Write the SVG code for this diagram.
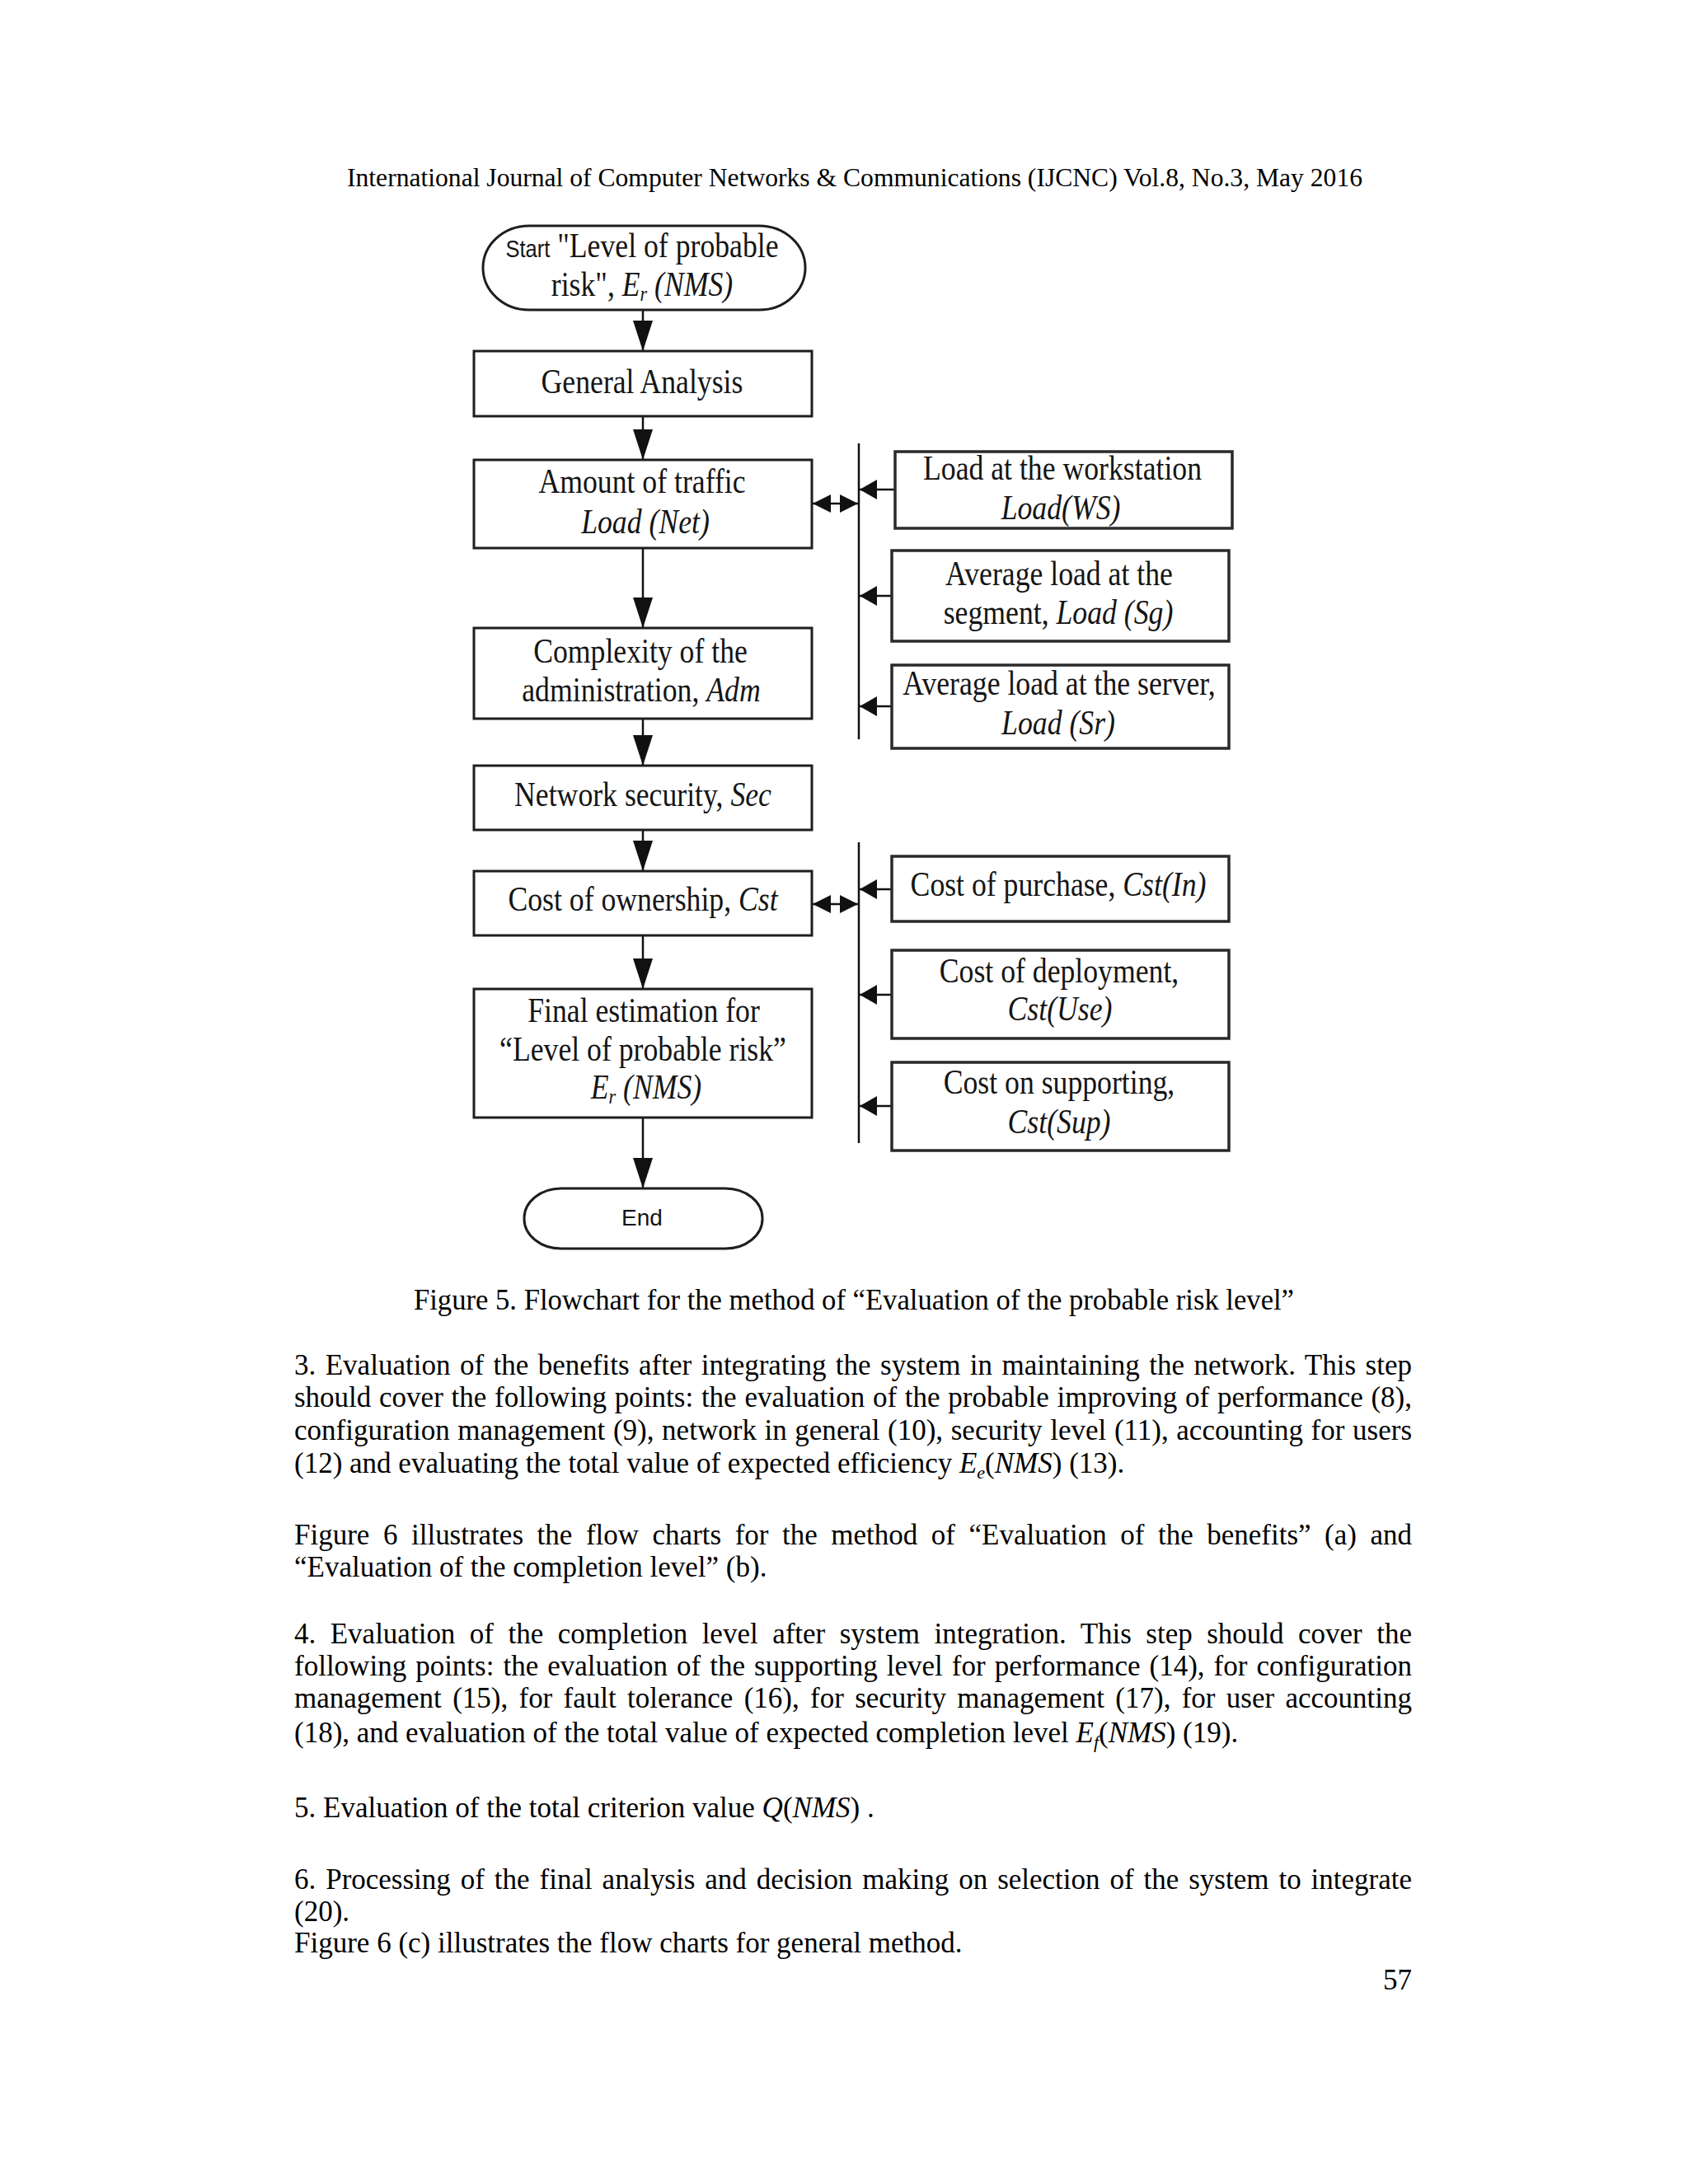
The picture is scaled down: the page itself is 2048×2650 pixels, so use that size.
<svg xmlns="http://www.w3.org/2000/svg" width="2048" height="2650" viewBox="0 0 2048 2650">
<style>
.box{fill:#fff;stroke:#1e1e1e;stroke-width:3}
.rbox{fill:#fff;stroke:#2a2a2a;stroke-width:3.5}
.t{font-family:"Liberation Serif","Times New Roman",serif;font-size:42px;fill:#151515;text-anchor:middle}
.s{font-family:"Liberation Sans",Arial,sans-serif;fill:#151515}
.i{font-style:italic}
.b{font-family:"Liberation Serif","Times New Roman",serif;font-size:35px;fill:#000}
.h{font-family:"Liberation Serif","Times New Roman",serif;font-size:32px;fill:#000}
.c{font-family:"Liberation Serif","Times New Roman",serif;font-size:36px;fill:#000}
.ln{stroke:#111;stroke-width:2.5;fill:none}
.down{marker-end:url(#ah)}
.left{marker-end:url(#ahs)}
.dbl{marker-start:url(#ahd);marker-end:url(#ahd)}
</style>
<defs>
<marker id="ah" viewBox="0 0 37 24" refX="37" refY="12" markerWidth="37" markerHeight="24" markerUnits="userSpaceOnUse" orient="auto"><path d="M0,0 L37,12 L0,24 Z" fill="#111"/></marker>
<marker id="ahs" viewBox="0 0 21 24" refX="21" refY="12" markerWidth="21" markerHeight="24" markerUnits="userSpaceOnUse" orient="auto"><path d="M0,0 L21,12 L0,24 Z" fill="#111"/></marker>
<marker id="ahd" viewBox="0 0 22 22" refX="22" refY="11" markerWidth="22" markerHeight="22" markerUnits="userSpaceOnUse" orient="auto-start-reverse"><path d="M0,0 L22,11 L0,22 Z" fill="#111"/></marker>
</defs>
<rect width="2048" height="2650" fill="#fff"/>

<text class="h" x="421" y="226" textLength="1232" lengthAdjust="spacingAndGlyphs">International Journal of Computer Networks &amp; Communications (IJCNC) Vol.8, No.3, May 2016</text>

<g id="connectors">
<line class="ln down" x1="780" y1="376" x2="780" y2="426"/>
<line class="ln down" x1="780" y1="505" x2="780" y2="558"/>
<line class="ln down" x1="780" y1="665" x2="780" y2="762"/>
<line class="ln down" x1="780" y1="872" x2="780" y2="929"/>
<line class="ln down" x1="780" y1="1007" x2="780" y2="1057"/>
<line class="ln down" x1="780" y1="1135" x2="780" y2="1200"/>
<line class="ln down" x1="780" y1="1356" x2="780" y2="1442"/>
<line class="ln" x1="1042" y1="538" x2="1042" y2="897"/>
<line class="ln" x1="1042" y1="1022" x2="1042" y2="1387"/>
<line class="ln left" x1="1085" y1="594" x2="1043" y2="594"/>
<line class="ln left" x1="1081" y1="723" x2="1043" y2="723"/>
<line class="ln left" x1="1081" y1="857" x2="1043" y2="857"/>
<line class="ln left" x1="1081" y1="1079" x2="1043" y2="1079"/>
<line class="ln left" x1="1081" y1="1207" x2="1043" y2="1207"/>
<line class="ln left" x1="1081" y1="1342" x2="1043" y2="1342"/>
<line class="ln dbl" x1="986" y1="611" x2="1041" y2="611"/>
<line class="ln dbl" x1="986" y1="1097" x2="1041" y2="1097"/>
</g>

<g id="node-start">
<rect class="box" x="586" y="274" width="391" height="102" rx="56" ry="51"/>
<text class="t" transform="translate(779,0) scale(0.85,1)" x="0" y="312"><tspan class="s" font-size="30">Start</tspan> "Level of probable</text>
<text class="t" transform="translate(779,0) scale(0.85,1)" x="0" y="359">risk", <tspan class="i">E</tspan><tspan class="i" font-size="26" dy="6">r</tspan><tspan class="i" dy="-6"> (NMS)</tspan></text>
</g>

<g id="node-general">
<rect class="box" x="575" y="426" width="410" height="79"/>
<text class="t" transform="translate(779,0) scale(0.85,1)" x="0" y="477">General Analysis</text>
</g>

<g id="node-traffic">
<rect class="box" x="575" y="558" width="410" height="107"/>
<text class="t" transform="translate(779,0) scale(0.85,1)" x="0" y="598">Amount of traffic</text>
<text class="t i" transform="translate(783,0) scale(0.85,1)" x="0" y="647">Load (Net)</text>
</g>

<g id="node-complexity">
<rect class="box" x="575" y="762" width="410" height="110"/>
<text class="t" transform="translate(777,0) scale(0.85,1)" x="0" y="804">Complexity of the</text>
<text class="t" transform="translate(778,0) scale(0.85,1)" x="0" y="851">administration, <tspan class="i">Adm</tspan></text>
</g>

<g id="node-security">
<rect class="box" x="575" y="929" width="410" height="78"/>
<text class="t" transform="translate(780,0) scale(0.85,1)" x="0" y="978">Network security, <tspan class="i">Sec</tspan></text>
</g>

<g id="node-cost">
<rect class="box" x="575" y="1057" width="410" height="78"/>
<text class="t" transform="translate(780,0) scale(0.85,1)" x="0" y="1105">Cost of ownership, <tspan class="i">Cst</tspan></text>
</g>

<g id="node-final">
<rect class="box" x="575" y="1200" width="410" height="156"/>
<text class="t" transform="translate(781,0) scale(0.85,1)" x="0" y="1240">Final estimation for</text>
<text class="t" transform="translate(780,0) scale(0.85,1)" x="0" y="1287">“Level of probable risk”</text>
<text class="t i" transform="translate(784,0) scale(0.85,1)" x="0" y="1333">E<tspan font-size="26" dy="6">r</tspan><tspan dy="-6"> (NMS)</tspan></text>
</g>

<g id="node-end">
<rect class="box" x="636" y="1442" width="289" height="73" rx="45" ry="36"/>
<text class="s" font-size="28" x="779" y="1487" text-anchor="middle">End</text>
</g>

<g id="node-ws">
<rect class="rbox" x="1086" y="548" width="409" height="93"/>
<text class="t" transform="translate(1289,0) scale(0.85,1)" x="0" y="582">Load at the workstation</text>
<text class="t i" transform="translate(1287,0) scale(0.85,1)" x="0" y="630">Load(WS)</text>
</g>

<g id="node-segment">
<rect class="rbox" x="1082" y="668" width="409" height="110"/>
<text class="t" transform="translate(1285,0) scale(0.85,1)" x="0" y="710">Average load at the</text>
<text class="t" transform="translate(1284,0) scale(0.85,1)" x="0" y="757">segment, <tspan class="i">Load (Sg)</tspan></text>
</g>

<g id="node-server">
<rect class="rbox" x="1082" y="807" width="409" height="101"/>
<text class="t" transform="translate(1285,0) scale(0.85,1)" x="0" y="843">Average load at the server,</text>
<text class="t i" transform="translate(1284,0) scale(0.85,1)" x="0" y="891">Load (Sr)</text>
</g>

<g id="node-purchase">
<rect class="rbox" x="1082" y="1039" width="409" height="79"/>
<text class="t" transform="translate(1284,0) scale(0.85,1)" x="0" y="1087">Cost of purchase, <tspan class="i">Cst(In)</tspan></text>
</g>

<g id="node-deployment">
<rect class="rbox" x="1082" y="1153" width="409" height="107"/>
<text class="t" transform="translate(1285,0) scale(0.85,1)" x="0" y="1192">Cost of deployment,</text>
<text class="t i" transform="translate(1286,0) scale(0.85,1)" x="0" y="1238">Cst(Use)</text>
</g>

<g id="node-supporting">
<rect class="rbox" x="1082" y="1289" width="409" height="107"/>
<text class="t" transform="translate(1285,0) scale(0.85,1)" x="0" y="1327">Cost on supporting,</text>
<text class="t i" transform="translate(1285,0) scale(0.85,1)" x="0" y="1375">Cst(Sup)</text>
</g>

<text class="c" x="502" y="1589" textLength="1068" lengthAdjust="spacingAndGlyphs">Figure 5. Flowchart for the method of “Evaluation of the probable risk level”</text>

<g id="body">
<text class="b" x="357" y="1668" word-spacing="2.7" textLength="1356" lengthAdjust="spacing">3. Evaluation of the benefits after integrating the system in maintaining the network. This step</text>
<text class="b" x="357" y="1707" word-spacing="1" textLength="1356" lengthAdjust="spacing">should cover the following points: the evaluation of the probable improving of performance (8),</text>
<text class="b" x="357" y="1747" word-spacing="0.8" textLength="1356" lengthAdjust="spacing">configuration management (9), network in general (10), security level (11), accounting for users</text>
<text class="b" x="357" y="1787">(12) and evaluating the total value of expected efficiency <tspan class="i">E</tspan><tspan class="i" font-size="22" dy="7">e</tspan><tspan dy="-7">(</tspan><tspan class="i">NMS</tspan>) (13).</text>

<text class="b" x="357" y="1874" word-spacing="7.8" textLength="1356" lengthAdjust="spacing">Figure 6 illustrates the flow charts for the method of “Evaluation of the benefits” (a) and</text>
<text class="b" x="357" y="1913">“Evaluation of the completion level” (b).</text>

<text class="b" x="357" y="1994" word-spacing="8.7" textLength="1356" lengthAdjust="spacing">4. Evaluation of the completion level after system integration. This step should cover the</text>
<text class="b" x="357" y="2033" word-spacing="2.25" textLength="1356" lengthAdjust="spacing">following points: the evaluation of the supporting level for performance (14), for configuration</text>
<text class="b" x="357" y="2072" word-spacing="4.6" textLength="1356" lengthAdjust="spacing">management (15), for fault tolerance (16), for security management (17), for user accounting</text>
<text class="b" x="357" y="2114">(18), and evaluation of the total value of expected completion level <tspan class="i">E</tspan><tspan class="i" font-size="22" dy="7">f</tspan><tspan dy="-7">(</tspan><tspan class="i">NMS</tspan>) (19).</text>

<text class="b" x="357" y="2205">5. Evaluation of the total criterion value <tspan class="i">Q</tspan>(<tspan class="i">NMS</tspan>) .</text>

<text class="b" x="357" y="2292" word-spacing="3.2" textLength="1356" lengthAdjust="spacing">6. Processing of the final analysis and decision making on selection of the system to integrate</text>
<text class="b" x="357" y="2331">(20).</text>
<text class="b" x="357" y="2369">Figure 6 (c) illustrates the flow charts for general method.</text>
<text class="b" x="1713" y="2414" text-anchor="end">57</text>
</g>
</svg>
